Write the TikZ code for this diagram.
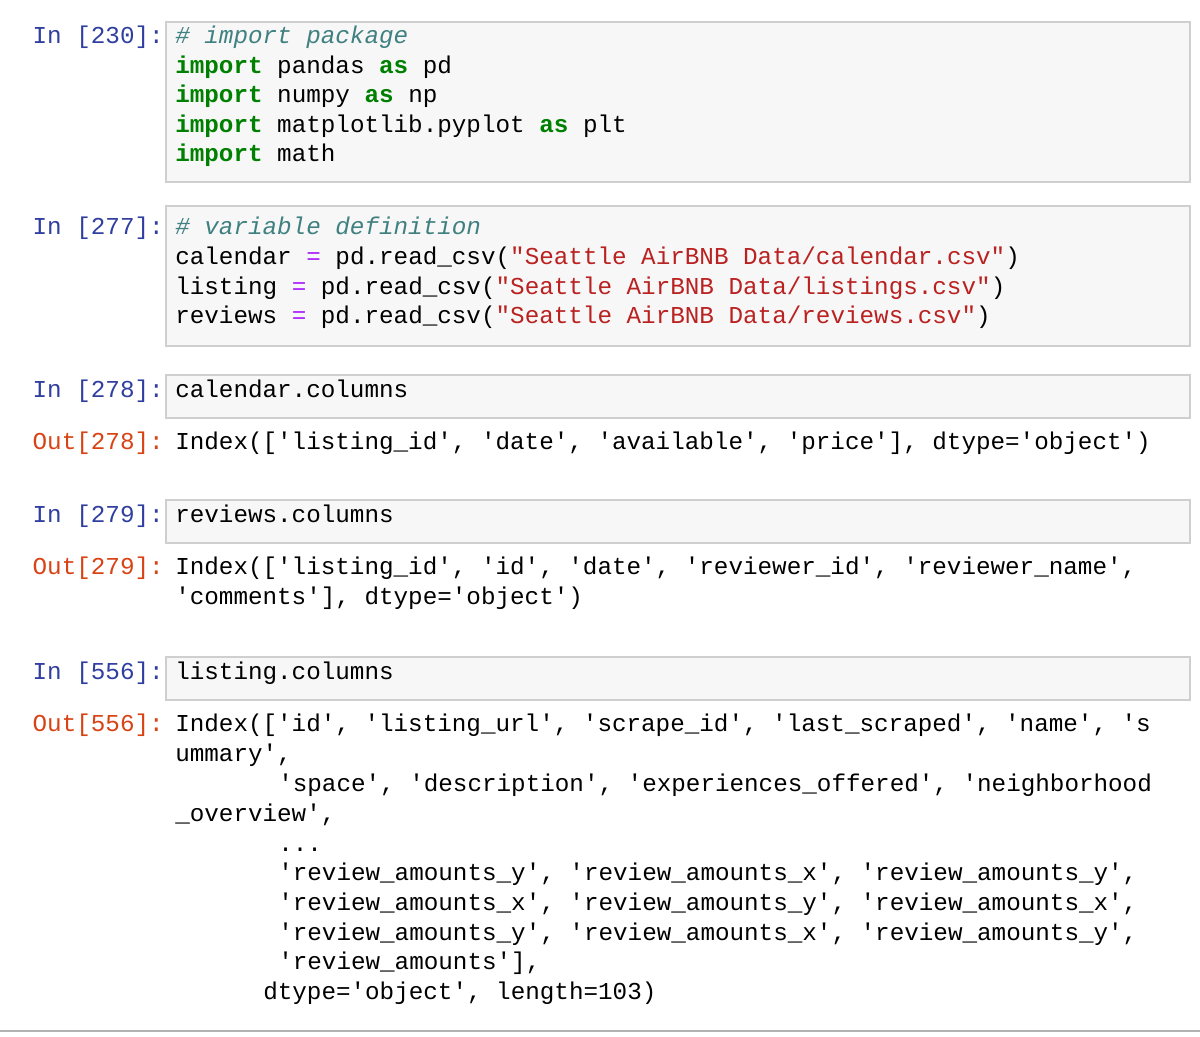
\documentclass[tikz,border=0pt]{standalone}
\usepackage{fontspec}
\setmonofont{Liberation Mono}
\usepackage{xcolor}
\usetikzlibrary{positioning}
\definecolor{kwgreen}{HTML}{008000}
\definecolor{cmteal}{HTML}{408080}
\definecolor{strred}{HTML}{BA2121}
\definecolor{oppurple}{HTML}{AA22FF}
\definecolor{inblue}{HTML}{303F9F}
\definecolor{outred}{HTML}{D84315}
\definecolor{cellbg}{HTML}{F7F7F7}
\definecolor{cellrule}{HTML}{CFCFCF}
\newcommand{\kw}[1]{\textcolor{kwgreen}{\bfseries #1}}
\newcommand{\cm}[1]{\textcolor{cmteal}{\itshape #1}}
\newcommand{\str}[1]{\textcolor{strred}{#1}}
\newcommand{\op}[1]{\textcolor{oppurple}{#1}}

\begin{document}
\begin{tikzpicture}[x=0.75pt,y=-0.75pt,
    every node/.style={font=\ttfamily\fontsize{18.2}{22}\selectfont,inner sep=0pt,
      text height=0.72em,text depth=0.22em},
    code/.style={anchor=west},
    inprompt/.style={anchor=east,text=inblue},
    outprompt/.style={anchor=east,text=outred},
    cell/.style={draw=cellrule,fill=cellbg,line width=0.8pt}]
  \useasboundingbox (0,0) rectangle (1200,1036);

  % cells
  \draw[cell] (166,22) rectangle (1190,182);
  \draw[cell] (166,206) rectangle (1190,346);
  \draw[cell] (166,375) rectangle (1190,418);
  \draw[cell] (166,500) rectangle (1190,543);
  \draw[cell] (166,657) rectangle (1190,700);

  % In [230]
  \node[inprompt] (in1) at (164,40) {In [230]:};
  \node[code] (c1a) at (175,40) {\cm{\# import package}};
  \node[code] (c1b) at (175,70) {\kw{import} pandas \kw{as} pd};
  \node[code] (c1c) at (175,99) {\kw{import} numpy \kw{as} np};
  \node[code] (c1d) at (175,129) {\kw{import} matplotlib.pyplot \kw{as} plt};
  \node[code] (c1e) at (175,158) {\kw{import} math};

  % In [277]
  \node[inprompt] (in2) at (164,231) {In [277]:};
  \node[code] (c2a) at (175,231) {\cm{\# variable definition}};
  \node[code] (c2b) at (175,261) {calendar \op{=} pd.read\_csv(\str{"Seattle AirBNB Data/calendar.csv"})};
  \node[code] (c2c) at (175,291) {listing \op{=} pd.read\_csv(\str{"Seattle AirBNB Data/listings.csv"})};
  \node[code] (c2d) at (175,320) {reviews \op{=} pd.read\_csv(\str{"Seattle AirBNB Data/reviews.csv"})};

  % In/Out [278]
  \node[inprompt] (in3) at (164,394) {In [278]:};
  \node[code] (c3) at (175,394) {calendar.columns};
  \node[outprompt] (out3) at (164,446) {Out[278]:};
  \node[code] (o3) at (175,446) {Index(['listing\_id', 'date', 'available', 'price'], dtype='object')};

  % In/Out [279]
  \node[inprompt] (in4) at (164,519) {In [279]:};
  \node[code] (c4) at (175,519) {reviews.columns};
  \node[outprompt] (out4) at (164,571) {Out[279]:};
  \node[code] (o4a) at (175,571) {Index(['listing\_id', 'id', 'date', 'reviewer\_id', 'reviewer\_name',};
  \node[code] (o4b) at (175,601) {'comments'], dtype='object')};

  % In/Out [556]
  \node[inprompt] (in5) at (164,676) {In [556]:};
  \node[code] (c5) at (175,676) {listing.columns};
  \node[outprompt] (out5) at (164,728) {Out[556]:};
  \node[code] (o5a) at (175,728) {Index(['id', 'listing\_url', 'scrape\_id', 'last\_scraped', 'name', 's};
  \node[code] (o5b) at (175,758) {ummary',};
  \node[code] (o5c) at (278,788) {'space', 'description', 'experiences\_offered', 'neighborhood};
  \node[code] (o5d) at (175,818) {\_overview',};
  \node[code] (o5e) at (278,848) {...};
  \node[code] (o5f) at (278,877) {'review\_amounts\_y', 'review\_amounts\_x', 'review\_amounts\_y',};
  \node[code] (o5g) at (278,907) {'review\_amounts\_x', 'review\_amounts\_y', 'review\_amounts\_x',};
  \node[code] (o5h) at (278,937) {'review\_amounts\_y', 'review\_amounts\_x', 'review\_amounts\_y',};
  \node[code] (o5i) at (278,966) {'review\_amounts'],};
  \node[code] (o5j) at (263,996) {dtype='object', length=103)};

  \draw[gray!60,line width=1pt] (0,1031) -- (1200,1031);
\end{tikzpicture}
\end{document}
